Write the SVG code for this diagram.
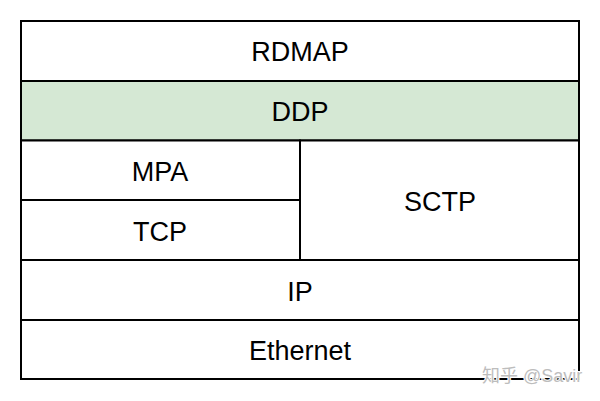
<svg xmlns="http://www.w3.org/2000/svg" width="600" height="401" viewBox="0 0 600 401">
<style>
.cell{fill:#ffffff;stroke:#000000;stroke-width:2}
.green{fill:#d5e8d4}
.lbl{font-family:"Liberation Sans",Arial,sans-serif;font-size:27px;fill:#000000;text-anchor:middle}
.wm{font-family:"Liberation Sans","Noto Sans CJK SC",sans-serif;font-size:18px;fill:#bdbdbd;stroke:#ffffff;stroke-width:2;paint-order:stroke}
</style>
<rect width="600" height="401" fill="#ffffff"/>
<g id="rdmap"><rect class="cell" x="21" y="21" width="558" height="60"/><text class="lbl" x="300" y="61">RDMAP</text></g>
<g id="ddp"><rect class="cell green" x="21" y="81" width="558" height="59.5"/><text class="lbl" x="300" y="121">DDP</text></g>
<g id="mpa"><rect class="cell" x="21" y="140.5" width="279" height="59.5"/><text class="lbl" x="160" y="181">MPA</text></g>
<g id="tcp"><rect class="cell" x="21" y="200" width="279" height="60"/><text class="lbl" x="160" y="241">TCP</text></g>
<g id="sctp"><rect class="cell" x="300" y="140.5" width="279" height="119.5"/><text class="lbl" x="440" y="211">SCTP</text></g>
<g id="ip"><rect class="cell" x="21" y="260" width="558" height="60"/><text class="lbl" x="300" y="301">IP</text></g>
<g id="ethernet"><rect class="cell" x="21" y="320" width="558" height="59"/><text class="lbl" x="300" y="360">Ethernet</text></g>
<g id="connectors"></g>
<text class="wm" x="482" y="382">知乎 @Savir</text>
</svg>
